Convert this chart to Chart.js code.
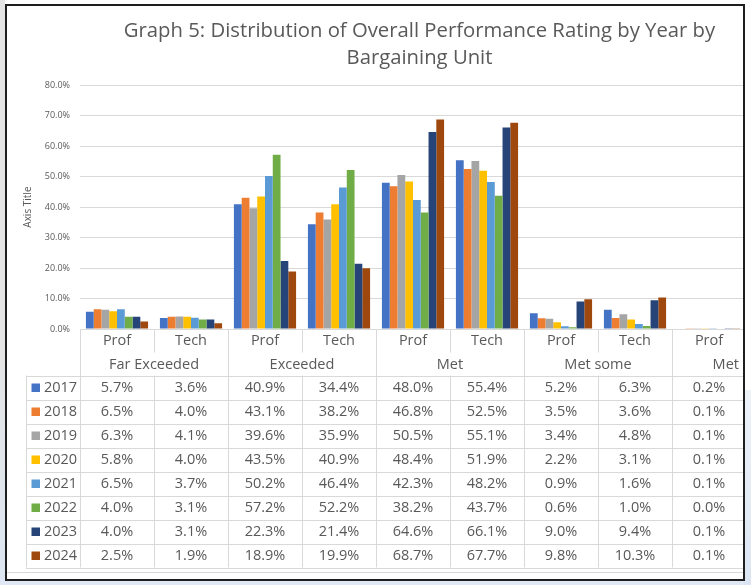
<!DOCTYPE html>
<html>
<head>
<meta charset="utf-8">
<script src="https://cdn.jsdelivr.net/npm/chart.js@4/dist/chart.umd.min.js"></script>
<style>
  html, body { margin: 0; padding: 0; }
  body { width: 751px; height: 585px; position: relative; overflow: hidden; background: #ffffff; }
  #leftStrip { position: absolute; left: 0; top: 0; width: 5px; height: 585px; background: linear-gradient(#e4e4e4, #e4e4e4 60%, #dce6f2); }
  #bottomStrip { position: absolute; left: 0; top: 579px; width: 751px; height: 6px; background: #dfe8f4; }
  #rightStrip { position: absolute; left: 744px; top: 390px; width: 7px; height: 195px; background: linear-gradient(#eef3fa, #dbe5f2); }
  #frame { position: absolute; left: 5px; top: 4px; width: 736px; height: 573px; border: 2px solid #1e1e1e; overflow: hidden; background: #fff; }
  #wrap { position: absolute; left: 0; top: 0; width: 825px; height: 573px; }
</style>
</head>
<body>
<div id="leftStrip"></div>
<div id="bottomStrip"></div>
<div id="rightStrip"></div>
<div id="frame"><div id="wrap"><canvas id="c"></canvas></div></div>
<script>
const titleLines = ['Graph 5: Distribution of Overall Performance Rating by Year by', 'Bargaining Unit'];
const groups = ['Far Exceeded', 'Exceeded', 'Met', 'Met some', 'Met None'];
const units = ['Prof', 'Tech'];
const years = ['2017', '2018', '2019', '2020', '2021', '2022', '2023', '2024'];
const colors = ['#4472C4', '#ED7D31', '#A5A5A5', '#FFC000', '#5B9BD5', '#70AD47', '#264478', '#9E480E'];
const yTicks = [0, 10, 20, 30, 40, 50, 60, 70, 80];

// values per year: FarExc Prof, Tech, Exc Prof, Tech, Met Prof, Tech, MetSome Prof, Tech, MetNone Prof, Tech (last column estimated, off-picture)
const v2017 = [5.7, 3.6, 40.9, 34.4, 48.0, 55.4, 5.2, 6.3, 0.2, 0.3];
const v2018 = [6.5, 4.0, 43.1, 38.2, 46.8, 52.5, 3.5, 3.6, 0.1, 1.7];
const v2019 = [6.3, 4.1, 39.6, 35.9, 50.5, 55.1, 3.4, 4.8, 0.1, 0.1];
const v2020 = [5.8, 4.0, 43.5, 40.9, 48.4, 51.9, 2.2, 3.1, 0.1, 0.1];
const v2021 = [6.5, 3.7, 50.2, 46.4, 42.3, 48.2, 0.9, 1.6, 0.1, 0.1];
const v2022 = [4.0, 3.1, 57.2, 52.2, 38.2, 43.7, 0.6, 1.0, 0.0, 0.0];
const v2023 = [4.0, 3.1, 22.3, 21.4, 64.6, 66.1, 9.0, 9.4, 0.1, 0.0];
const v2024 = [2.5, 1.9, 18.9, 19.9, 68.7, 67.7, 9.8, 10.3, 0.1, 0.2];
const seriesValues = [v2017, v2018, v2019, v2020, v2021, v2022, v2023, v2024];

const categories = [];
groups.forEach(g => units.forEach(u => categories.push([u, g])));

const FONT = '"Open Sans", "Noto Sans", sans-serif';
const TEXT = '#595959';
const LINE = '#d9d9d9';

const tablePlugin = {
  id: 'dataTable',
  afterDraw(chart) {
    const { ctx, chartArea, scales } = chart;
    const xs = scales.x;
    const n = categories.length;
    const B = chartArea.bottom;
    const catW = (chartArea.right - chartArea.left) / n;
    const r1 = B + 23.5, r2 = B + 46.5, rowH = 24;
    const legendLeft = 19;
    const tableBottom = r2 + rowH * years.length;
    ctx.save();
    ctx.strokeStyle = LINE;
    ctx.lineWidth = 1;
    const hl = (x1, x2, y) => { ctx.beginPath(); ctx.moveTo(x1, Math.round(y) + 0.5); ctx.lineTo(x2, Math.round(y) + 0.5); ctx.stroke(); };
    const vl = (x, y1, y2) => { ctx.beginPath(); ctx.moveTo(Math.round(x) + 0.5, y1); ctx.lineTo(Math.round(x) + 0.5, y2); ctx.stroke(); };
    for (let k = 0; k <= years.length; k++) hl(legendLeft, chartArea.right, r2 + rowH * k);
    vl(legendLeft, r2, tableBottom);
    for (let i = 0; i <= n; i++) {
      const x = xs.getPixelForValue(0) - catW / 2 + i * catW;
      if (i % 2 === 0) vl(x, B, tableBottom);
      else { vl(x, B, r1); vl(x, r2, tableBottom); }
    }
    hl(0, chart.width, 566);
    ctx.fillStyle = TEXT;
    ctx.textAlign = 'center';
    ctx.textBaseline = 'middle';
    ctx.font = '14.5px ' + FONT;
    for (let i = 0; i < n; i++) {
      const cx = xs.getPixelForValue(i);
      ctx.fillText(categories[i][0], cx, B + 12);
      for (let k = 0; k < years.length; k++) {
        ctx.fillText(seriesValues[k][i].toFixed(1) + '%', cx, r2 + rowH * k + 12.5);
      }
    }
    for (let g = 0; g < groups.length; g++) {
      const cx = (xs.getPixelForValue(2 * g) + xs.getPixelForValue(2 * g + 1)) / 2;
      ctx.fillText(groups[g], cx, B + 35.5);
    }
    ctx.textAlign = 'left';
    for (let k = 0; k < years.length; k++) {
      const cy = r2 + rowH * k + 12.5;
      ctx.fillStyle = colors[k];
      ctx.fillRect(24.5, cy - 4.5, 8.5, 8.5);
      ctx.fillStyle = TEXT;
      ctx.fillText(years[k], 37, cy);
    }
    ctx.restore();
  }
};

new Chart(document.getElementById('c'), {
  type: 'bar',
  data: {
    labels: categories,
    datasets: years.map((y, k) => ({
      label: y,
      data: seriesValues[k],
      backgroundColor: colors[k],
      borderWidth: 0,
      categoryPercentage: 0.84,
      barPercentage: 1.0
    }))
  },
  plugins: [tablePlugin],
  options: {
    responsive: true,
    maintainAspectRatio: false,
    animation: false,
    layout: { padding: { left: 12, right: 12, top: 0, bottom: 250 } },
    plugins: {
      legend: { display: false },
      tooltip: { enabled: false },
      title: {
        display: true,
        text: titleLines,
        color: TEXT,
        font: { family: FONT, size: 20.3, weight: 'normal', lineHeight: 1.31 },
        padding: { top: 12, bottom: 14 }
      }
    },
    scales: {
      x: { display: false },
      y: {
        min: 0, max: 80,
        afterFit(scale) { scale.width = 61; },
        afterBuildTicks(scale) { scale.ticks = yTicks.map(v => ({ value: v })); },
        border: { display: false },
        grid: { color: LINE, lineWidth: 1, drawTicks: false },
        ticks: {
          padding: 10,
          color: TEXT,
          font: { family: FONT, size: 9 },
          callback: v => v.toFixed(1) + '%'
        },
        title: {
          display: true,
          text: 'Axis Title',
          color: TEXT,
          font: { family: FONT, size: 10 },
          padding: { top: 3, bottom: 0 }
        }
      }
    }
  }
});
</script>
</body>
</html>
